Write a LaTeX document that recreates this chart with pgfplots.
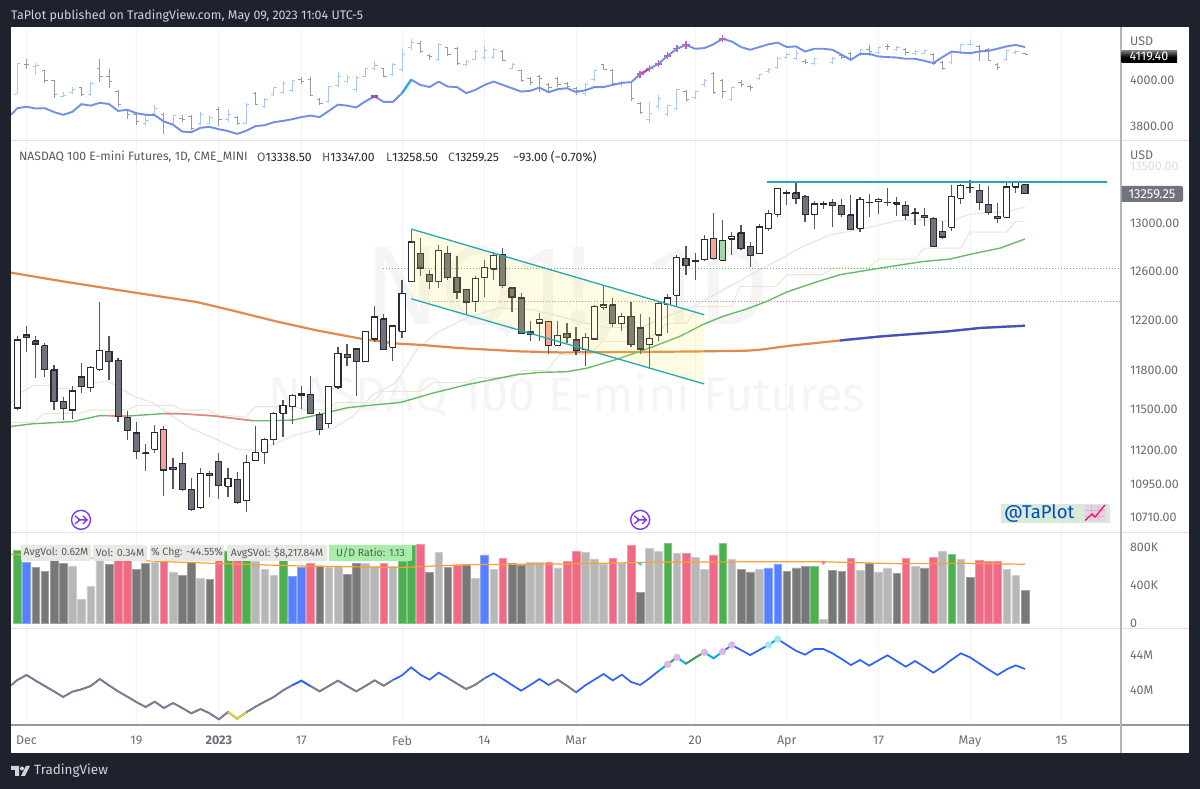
\documentclass[border=0pt]{standalone}
\usepackage{pgfplots}
\usepackage{pgfplotstable}
\usepackage{fontspec}
\pgfplotsset{compat=1.18}
\setmainfont{Fira Sans}

\definecolor{bgdark}{HTML}{1E222D}
\definecolor{gridc}{HTML}{F0F3FA}
\definecolor{sepc}{HTML}{E0E3EB}
\definecolor{scalec}{HTML}{B2B5BE}
\definecolor{tickc}{HTML}{6A6D78}
\definecolor{headc}{HTML}{D1D4DC}
\definecolor{cu}{HTML}{FFFFFF}
\definecolor{cd}{HTML}{6F727C}
\definecolor{cr}{HTML}{F7A29B}
\definecolor{cg}{HTML}{A5D6A7}
\definecolor{cedge}{HTML}{2A2C33}
\definecolor{cwick}{HTML}{55565C}
\definecolor{sb}{HTML}{A9C6FB}
\definecolor{sg}{HTML}{9A9A9E}
\definecolor{rsc}{HTML}{7090E8}
\definecolor{purp}{HTML}{AB47BC}
\definecolor{purpl}{HTML}{DDB8E4}
\definecolor{cyanl}{HTML}{A6E6EE}
\definecolor{teal}{HTML}{22AAB4}
\definecolor{ma200}{HTML}{E08A4E}
\definecolor{ma200b}{HTML}{3F51C8}
\definecolor{ma50}{HTML}{66BB6A}
\definecolor{ma50r}{HTML}{F77C80}
\definecolor{ma21}{HTML}{E4E4EA}
\definecolor{stepc}{HTML}{EBE8D2}
\definecolor{evp}{HTML}{7C3AED}
\definecolor{volg}{HTML}{4CAF50}
\definecolor{volb}{HTML}{5680FF}
\definecolor{volp}{HTML}{EF6A85}
\definecolor{vold}{HTML}{787878}
\definecolor{voll}{HTML}{B7B7B7}
\definecolor{volma}{HTML}{FF9F2E}
\definecolor{linb}{HTML}{2962FF}
\definecolor{ling}{HTML}{808080}
\definecolor{liny}{HTML}{E6D820}
\definecolor{linc}{HTML}{00BCD4}
\definecolor{linv}{HTML}{43A047}
\definecolor{chanfill}{HTML}{FFEB3B}
\definecolor{dotg}{HTML}{66BB6A}
\definecolor{dotr}{HTML}{F77C80}
\definecolor{chipg}{HTML}{A8EEA8}
\definecolor{chipn}{HTML}{E8E8E4}

\pgfdeclareplotmark{evt}{%
  \pgfpathcircle{\pgfpointorigin}{9.5pt}\pgfusepathqstroke
  \pgfpathmoveto{\pgfqpoint{-6pt}{4pt}}\pgfpathlineto{\pgfqpoint{-1pt}{0pt}}\pgfpathlineto{\pgfqpoint{-6pt}{-4pt}}
  \pgfpathmoveto{\pgfqpoint{-3pt}{0pt}}\pgfpathlineto{\pgfqpoint{6pt}{0pt}}
  \pgfpathmoveto{\pgfqpoint{2pt}{4pt}}\pgfpathlineto{\pgfqpoint{6pt}{0pt}}\pgfpathlineto{\pgfqpoint{2pt}{-4pt}}
  \pgfusepathqstroke}

% main pane candles, n counts sessions from Dec 1
\pgfplotstableread{
n o h l c k
-1 11513 12075 11500 12041 cu
0 12081 12149 11946 12062 cd
1 12033 12069 11743 12009 cd
2 11996 12017 11751 11807 cd
3 11805 11844 11500 11566 cd
4 11563 11597 11419 11510 cd
5 11498 11682 11432 11643 cu
6 11751 11859 11630 11681 cd
7 11668 11833 11635 11825 cu
8 11812 12343 11799 11958 cu
9 11951 12069 11730 11869 cd
10 11883 11895 11404 11452 cd
11 11439 11492 11275 11344 cd
12 11325 11409 11132 11188 cd
13 11177 11243 11045 11170 cd
14 11203 11386 11179 11332 cu
15 11354 11381 10865 11052 cr
16 11071 11142 10914 11056 cd
17 11098 11184 10900 10909 cd
18 10909 10993 10761 10766 cd
19 10780 11069 10775 11027 cu
20 11027 11047 10856 11015 cd
21 11115 11176 10844 10940 cd
22 10933 11064 10860 10990 cu
23 10986 11040 10806 10816 cd
24 10835 11164 10747 11110 cu
25 11120 11381 11120 11181 cu
26 11181 11288 11096 11277 cu
27 11275 11480 11238 11472 cu
28 11472 11576 11292 11533 cu
29 11528 11617 11389 11607 cu
30 11622 11684 11508 11612 cd
31 11617 11758 11472 11472 cd
32 11467 11482 11310 11354 cd
33 11396 11678 11364 11676 cu
34 11674 11985 11655 11932 cu
35 11930 12011 11833 11906 cd
36 11970 11977 11605 11869 cd
37 11869 12113 11869 12107 cu
38 12049 12310 12025 12225 cu
39 12209 12251 11962 11966 cd
40 11982 12155 11872 12153 cu
41 12109 12529 12056 12417 cu
42 12515 12949 12507 12844 cu
43 12751 12881 12556 12626 cd
44 12576 12606 12455 12513 cd
45 12513 12819 12463 12776 cu
46 12751 12813 12523 12546 cd
47 12551 12728 12371 12428 cd
48 12447 12453 12245 12346 cd
49 12351 12562 12265 12540 cu
50 12546 12689 12390 12634 cu
51 12618 12756 12529 12729 cu
52 12743 12796 12461 12480 cd
53 12461 12466 12265 12387 cd
54 12379 12420 12091 12091 cd
55 12105 12193 12033 12086 cd
56 12177 12261 12033 12203 cu
57 12189 12189 11927 11995 cr
58 12001 12195 11995 12077 cu
59 12093 12173 12017 12064 cd
60 12041 12141 11925 11958 cd
61 11964 12096 11833 12061 cu
62 12049 12324 12043 12308 cu
63 12305 12488 12281 12322 cu
64 12322 12379 12145 12171 cd
65 12171 12261 12113 12229 cu
66 12229 12349 11982 12003 cd
67 12137 12249 11932 11970 cd
68 12008 12227 11815 12053 cu
69 12081 12357 12030 12338 cu
70 12326 12408 12097 12379 cu
71 12400 12737 12315 12714 cu
72 12709 12813 12570 12645 cd
73 12689 12751 12529 12684 cd
74 12701 12901 12687 12867 cu
75 12873 13091 12689 12709 cr
76 12692 13034 12689 12861 cg
77 12870 12932 12731 12895 cu
78 12921 12991 12779 12790 cd
79 12810 12841 12637 12731 cd
80 12748 12997 12748 12972 cu
81 12960 13120 12935 13088 cu
82 13083 13313 13062 13306 cu
83 13272 13289 13161 13266 cd
84 13266 13359 13172 13218 cd
85 13233 13248 13014 13079 cd
86 13080 13193 12957 13170 cu
87 13170 13193 13126 13165 cd
88 13187 13216 12972 13158 cd
89 13161 13216 13054 13079 cd
90 13075 13245 12946 12952 cd
91 12963 13231 12929 13213 cu
92 13187 13259 13062 13183 cd
93 13192 13225 13083 13213 cu
94 13187 13307 13149 13183 cd
95 13170 13231 13068 13187 cu
96 13161 13193 13028 13075 cd
97 13094 13137 12989 13090 cd
98 13071 13137 12980 13057 cd
99 13048 13054 12810 12810 cd
100 12938 13020 12870 12887 cd
101 12969 13339 12940 13233 cu
102 13222 13342 13172 13330 cu
103 13318 13383 13266 13312 cd
104 13292 13345 13120 13187 cd
105 13163 13324 13079 13094 cd
106 13065 13178 13006 13045 cd
107 13057 13359 13057 13319 cu
108 13319 13365 13264 13359 cu
109 13338.5 13347 13258.5 13259.25 cd
}\candles

% upper pane, S&P bars (closed on n=87)
\pgfplotstableread{
n o h l c k
-1 3939 4080 3939 4080 sb
0 4076 4098 4053 4076 sg
1 4065 4080 4027 4071 sb
2 4047 4050 3990 4002 sg
3 4000 4005 3922 3940 sg
4 3930 3952 3928 3934 sb
5 3948 3972 3940 3960 sb
6 3970 3975 3934 3937 sg
7 3937 3997 3934 3990 sb
8 4057 4098 3997 4018 sg
9 4020 4053 3970 3997 sg
10 3952 3960 3883 3893 sg
11 3867 3875 3831 3850 sg
12 3850 3857 3803 3819 sg
13 3814 3850 3800 3826 sb
14 3857 3893 3850 3879 sb
15 3850 3857 3768 3821 sg
16 3814 3850 3803 3846 sb
17 3833 3850 3817 3831 sg
18 3843 3850 3785 3790 sg
19 3814 3860 3807 3850 sb
20 3814 3847 3810 3840 sb
21 3872 3883 3800 3831 sg
22 3829 3875 3820 3850 sb
23 3839 3843 3807 3811 sg
24 3814 3903 3811 3893 sb
25 3945 3952 3892 3895 sg
26 3886 3922 3879 3918 sb
27 3937 3975 3933 3970 sb
28 3948 4000 3940 3990 sb
29 3957 4005 3949 4000 sb
30 4005 4015 3987 3997 sg
31 4008 4015 3930 3933 sg
32 3915 3922 3892 3898 sg
33 3908 3978 3901 3975 sb
34 3982 4041 3972 4020 sb
35 3997 4027 3990 4015 sb
36 3960 4020 3952 4015 sb
37 4020 4060 4015 4057 sb
38 4057 4092 4047 4072 sb
39 4057 4060 4015 4018 sg
40 4027 4080 4023 4075 sb
41 4051 4147 4039 4120 sb
42 4152 4194 4144 4180 sb
43 4175 4186 4128 4136 sg
44 4116 4125 4094 4112 sg
45 4100 4175 4092 4167 sb
46 4152 4156 4116 4120 sg
47 4148 4156 4073 4081 sg
48 4073 4097 4066 4089 sb
49 4100 4141 4094 4136 sb
50 4109 4163 4097 4141 sb
51 4109 4152 4100 4147 sb
52 4136 4141 4089 4092 sg
53 4058 4081 4054 4076 sb
54 4046 4051 3995 4000 sg
55 4010 4016 3983 3995 sg
56 4021 4028 3950 4013 sg
57 3983 3990 3950 3972 sg
58 4012 4018 3975 3983 sg
59 3990 3995 3963 3975 sg
60 3968 3975 3938 3956 sg
61 3945 3990 3930 3983 sb
62 4005 4051 3998 4046 sb
63 4073 4078 4048 4051 sg
64 4048 4054 3983 3987 sg
65 3983 3998 3972 3990 sb
66 3993 4001 3912 3921 sg
67 3901 3907 3854 3860 sg
68 3828 3904 3813 3857 sb
69 3886 3938 3876 3923 sb
70 3850 3894 3842 3889 sb
71 3879 3963 3872 3960 sb
72 3953 3960 3905 3915 sg
73 3926 3956 3920 3953 sb
74 3983 4009 3975 4002 sb
75 4033 4040 3942 3948 sg
76 4001 4009 3923 3953 sg
77 3918 3975 3912 3972 sb
78 3995 4002 3975 3986 sg
79 3975 3983 3956 3971 sg
80 4009 4031 4002 4028 sb
81 4043 4058 4036 4054 sb
82 4061 4109 4054 4105 sb
83 4109 4128 4103 4123 sb
84 4105 4141 4094 4125 sb
85 4089 4100 4075 4086 sg
86 4081 4105 4073 4101 sb
88 4084 4108 4076 4105 sb
89 4116 4120 4100 4109 sg
90 4125 4133 4092 4105 sg
91 4120 4148 4116 4144 sb
92 4144 4167 4116 4136 sg
93 4131 4155 4125 4152 sb
94 4160 4171 4144 4160 sg
95 4144 4163 4139 4156 sb
96 4144 4152 4117 4131 sg
97 4125 4141 4120 4136 sb
98 4128 4144 4123 4139 sb
99 4120 4128 4070 4078 sg
100 4084 4089 4051 4055 sg
101 4086 4136 4078 4133 sb
102 4133 4171 4125 4167 sb
103 4167 4188 4164 4170 sb
104 4160 4167 4089 4141 sg
105 4144 4152 4089 4094 sg
106 4073 4081 4051 4063 sg
107 4097 4144 4089 4139 sb
108 4131 4144 4125 4136 sb
109 4125 4128 4117 4119.4 sg
}\spbars

\pgfplotstableread{
n v
-1.69 3849
-1 3878
0 3885
1 3877
2 3878
3 3861
4 3849
5 3862
6 3896
7 3890
8 3902
9 3897
10 3866
11 3871
12 3856
13 3849
14 3848
15 3820
16 3806
17 3777
18 3774
19 3793
20 3797
21 3787
22 3779
23 3767
24 3780
25 3800
26 3804
27 3817
28 3823
29 3830
30 3839
31 3846
32 3839
33 3866
34 3894
35 3890
36 3881
37 3909
38 3930
39 3906
40 3906
41 3945
42 4005
43 3982
44 3972
45 3997
46 3974
47 3972
48 3945
49 3959
50 3982
51 3997
52 3982
53 3967
54 3952
55 3956
56 3970
57 3949
58 3963
59 3967
60 3950
61 3958
62 3972
63 3972
64 3982
65 3992
66 3994
67 4030
68 4055
69 4078
70 4115
71 4148
72 4166
73 4148
74 4151
75 4169
76 4195
77 4182
78 4156
79 4143
80 4156
81 4169
82 4177
83 4156
84 4159
85 4135
86 4148
87 4148
88 4143
89 4120
90 4096
91 4124
92 4124
93 4112
94 4109
95 4107
96 4101
97 4101
98 4092
99 4081
100 4109
101 4135
102 4130
103 4127
104 4135
105 4138
106 4148
107 4159
108 4166
109 4156
}\rsline

\pgfplotstableread{
n v
-1.69 11374
0.7 11394
5.1 11411
8.0 11456
8.9 11455
11.0 11452
12.7 11460
14.9 11470
16.8 11470
20.4 11454
24.7 11417
26.6 11417
29.1 11422
31.7 11460
35.0 11515
37.8 11536
40.8 11555
44.4 11628
48.1 11692
53.5 11769
56.1 11787
59.0 11792
61.2 11820
64.5 11890
68.1 11980
71.3 12069
73.8 12163
76.0 12229
78.6 12289
80.8 12351
83.0 12428
85.9 12502
88.8 12570
91.0 12598
93.9 12634
97.9 12681
100.8 12701
103.3 12745
106.3 12793
109 12870
}\mafifty

\pgfplotstableread{
n v
-1.69 12587
4.0 12515
12.1 12420
18.6 12346
22.5 12277
27.3 12189
31.7 12117
36.7 12049
39.4 12022
40.8 12011
42.9 12003
47.3 11977
53.9 11951
58.2 11943
66.2 11946
73.8 11951
78.6 11956
80.1 11964
83.4 11996
88.8 12037
93.2 12069
100.5 12109
104.1 12137
109 12155
}\matwo

\pgfplotstableread{
n v
-1.69 11551
-0.7 11628
0.7 11684
2.6 11684
3.7 11661
5.1 11666
6.9 11699
8.8 11722
10.2 11668
11.6 11607
13.8 11553
16.0 11449
17.9 11362
20.4 11288
23.0 11206
25.2 11196
26.9 11238
29.1 11305
31.3 11344
33.5 11362
35.6 11449
37.8 11615
40.0 11692
40.8 11756
42.6 11964
44.8 12099
48.1 12219
51.7 12299
55.3 12283
58.2 12229
60.8 12179
63.4 12139
67.0 12139
69.9 12229
72.8 12310
77.1 12488
80.1 12612
82.2 12695
84.4 12793
87.7 12906
89.9 12935
92.4 12977
95.0 13026
98.3 13034
100.5 13020
101.6 13043
103.0 13083
105.2 13097
107.0 13105
109 13142
}\matwenty

\pgfplotstableread{
n v
-1.69 11404
0.9 11404
1.8 11470
5.8 11475
6.9 11498
11.0 11498
12.1 11533
16.0 11533
17.0 11498
20.0 11498
20.8 11462
24.0 11444
24.9 11523
29.1 11523
30.4 11502
32.4 11502
33.9 11555
37.8 11555
38.8 11640
43.0 11640
44.4 11707
48.1 11707
49.2 11745
53.1 11745
54.2 11802
56.8 11802
58.2 11925
61.5 11925
62.9 12030
67.0 12030
68.1 12069
69.9 12171
72.1 12177
73.2 12310
77.0 12310
77.9 12474
81.9 12474
83.0 12570
86.9 12570
88.0 12626
91.9 12626
93.0 12701
97.0 12701
98.0 12793
102.0 12793
103.0 12929
107.0 12929
108.0 13020
109 13020
}\stepline

\pgfplotstableread{
n v
-1.69 40.53
-1 41.13
0 41.70
1 41.06
2 40.45
3 39.85
4 39.21
5 39.81
6 40.08
7 40.45
8 41.25
9 40.53
10 39.85
11 39.25
12 38.64
13 38.07
14 38.68
15 37.96
16 38.53
17 37.96
18 37.36
19 37.85
20 37.36
21 36.68
22 37.51
23 36.75
24 37.47
25 38.11
26 38.68
27 39.21
28 39.96
29 40.53
30 41.06
31 40.45
32 39.85
33 40.45
34 41.06
35 40.45
36 39.85
37 40.45
38 41.09
39 40.49
40 41.13
41 41.66
42 42.57
43 41.74
44 41.17
45 41.96
46 41.36
47 40.72
48 40.11
49 40.60
50 41.32
51 41.89
52 41.25
53 40.57
54 39.92
55 40.57
56 41.25
57 40.57
58 41.17
59 40.49
60 39.74
61 40.53
62 41.17
63 41.81
64 41.09
65 41.74
66 40.91
67 40.57
68 41.32
69 42.15
70 42.91
71 43.70
72 42.98
73 43.66
74 44.27
75 43.59
76 44.34
77 45.10
78 44.53
79 43.96
80 44.53
81 45.10
82 45.78
83 45.10
84 44.45
85 44.00
86 44.64
87 44.64
88 44.15
89 43.51
90 42.83
91 43.40
92 42.76
93 43.36
94 43.93
95 43.28
96 42.64
97 43.28
98 42.64
99 41.96
100 42.64
101 43.44
102 44.15
103 43.70
104 43.02
105 42.34
106 41.70
107 42.34
108 42.79
109 42.38
}\obvline

\pgfplotsset{
  pane/.style={
    scale only axis, width=1110pt,
    xmin=-1.692, xmax=119.49,
    axis line style={draw=none}, tick style={draw=none},
    major tick length=0pt,
    xtick={0,12,21,30,41,50,60,73,83,93,103,113},
    xticklabels={},
    xmajorgrids, grid style={color=gridc, line width=0.9pt},
    yticklabel pos=right,
    y tick label style={anchor=west, xshift=5.5pt},
    tick label style={font=\fontsize{12.5}{14}\selectfont, text=tickc},
    unbounded coords=jump,
    clip=true,
  },
  seg/.style 2 args={restrict x to domain=#1:#2},
}

\begin{document}
\begin{tikzpicture}[x=1pt,y=1pt]
\path[use as bounding box] (0,0) rectangle (1200,789);
\fill[bgdark] (0,0) rectangle (1200,789);
\fill[white] (11,36.3) rectangle (1189,761.7);
% watermark
\node[text=black!4, inner sep=0, font=\fontsize{112}{114}\selectfont] at (567,494) {NQ1!, 1D};
\node[text=black!4, inner sep=0, font=\fontsize{48.5}{50}\selectfont] at (567,394) {NASDAQ 100 E-mini Futures};

% upper pane
\begin{axis}[pane, at={(11pt,648pt)}, anchor=south west, height=114pt,
  ymode=log, ymin=3737, ymax=4252,
  ytick={3800,4000}, yticklabels={3800.00,4000.00}]
\pgfplotsinvokeforeach{0,...,109}{
  \pgfplotstablegetelem{#1}{n}\of\spbars \let\valX\pgfplotsretval
  \pgfplotstablegetelem{#1}{o}\of\spbars \let\valO\pgfplotsretval
  \pgfplotstablegetelem{#1}{h}\of\spbars \let\valH\pgfplotsretval
  \pgfplotstablegetelem{#1}{l}\of\spbars \let\valL\pgfplotsretval
  \pgfplotstablegetelem{#1}{c}\of\spbars \let\valC\pgfplotsretval
  \pgfplotstablegetelem{#1}{k}\of\spbars \let\valK\pgfplotsretval
  \pgfmathsetmacro\xa{\valX-0.32}
  \pgfmathsetmacro\xb{\valX+0.32}
  \edef\barcmd{\noexpand\addplot[\valK, line width=0.85pt] coordinates
    {(\valX,\valH) (\valX,\valL) (\valX,nan) (\xa,\valO) (\valX,\valO) (\valX,nan) (\valX,\valC) (\xb,\valC)};}
  \barcmd
}
\addplot[rsc, line width=1.9pt, line join=round] table[x=n,y=v] {\rsline};
\addplot[color=linc!70!rsc, line width=2.2pt, seg={40.9}{42.1}] table[x=n,y=v] {\rsline};
\addplot[purp, line width=2pt, seg={66.9}{68.1}] table[x=n,y=v] {\rsline};
\addplot[only marks, mark=+, mark size=3.6pt, color=purp!85, mark options={draw=purp!85, line width=1.5pt}] coordinates {
 (67,4030) (68,4055) (69,4078) (70,4115) (71,4148) (72,4166) (76,4195)};
\addplot[only marks, mark=-, mark size=3.4pt, color=purp, mark options={draw=purp, line width=2.6pt}] coordinates {(38,3930)};
\end{axis}

% main pane
\begin{axis}[pane, at={(11pt,256pt)}, anchor=south west, height=392pt,
  ymode=log, ymin=10604, ymax=13731,
  ytick={10710,10950,11200,11500,11800,12200,12600,13000,13500},
  yticklabels={10710.00,10950.00,11200.00,11500.00,11800.00,12200.00,12600.00,13000.00,\textcolor{black!13}{13500.00}}]
\addplot[ma21, line width=1.1pt] table[x=n,y=v] {\matwenty};
\addplot[stepc, line width=1.1pt] table[x=n,y=v] {\stepline};
\addplot[color=dotg, line width=0.9pt, dash pattern=on 1pt off 2pt] coordinates {(38.9,12626) (119.5,12626)};
\addplot[color=dotr, line width=0.9pt, dash pattern=on 1pt off 2pt] coordinates {(43.9,12349) (119.5,12349)};
\addplot[ma200, line width=2.2pt] table[x=n,y=v] {\matwo};
\addplot[ma200b, line width=2.2pt, seg={88.7}{109.1}] table[x=n,y=v] {\matwo};
\addplot[ma50, line width=1.4pt] table[x=n,y=v] {\mafifty};
\addplot[ma50r, line width=1.4pt, seg={8.85}{11.05}] table[x=n,y=v] {\mafifty};
\addplot[ma50r, line width=1.4pt, seg={14.85}{24.75}] table[x=n,y=v] {\mafifty};
\pgfplotsinvokeforeach{0,...,110}{
  \pgfplotstablegetelem{#1}{n}\of\candles \let\valX\pgfplotsretval
  \pgfplotstablegetelem{#1}{o}\of\candles \let\valO\pgfplotsretval
  \pgfplotstablegetelem{#1}{h}\of\candles \let\valH\pgfplotsretval
  \pgfplotstablegetelem{#1}{l}\of\candles \let\valL\pgfplotsretval
  \pgfplotstablegetelem{#1}{c}\of\candles \let\valC\pgfplotsretval
  \pgfplotstablegetelem{#1}{k}\of\candles \let\valK\pgfplotsretval
  \pgfmathsetmacro\xa{\valX-0.33}
  \pgfmathsetmacro\xb{\valX+0.33}
  \edef\wickcmd{\noexpand\addplot[cwick, line width=1.2pt] coordinates {(\valX,\valH) (\valX,\valL)};}
  \wickcmd
  \edef\bodycmd{\noexpand\addplot[draw=cedge, line width=1.1pt, fill=\valK] coordinates
    {(\xa,\valO) (\xb,\valO) (\xb,\valC) (\xa,\valC) (\xa,\valO)};}
  \bodycmd
}
\addplot[draw=none, fill=chanfill, fill opacity=0.13] coordinates {(42,12955) (74,12243) (74,11697) (42,12373)};
\addplot[teal, line width=1.3pt] coordinates {(42,12955) (74,12243)};
\addplot[teal, line width=1.3pt] coordinates {(42,12373) (74,11697)};
\addplot[teal, line width=1.8pt] coordinates {(80.8,13365) (118,13365)};
\addplot[only marks, mark=evt, color=evp, mark options={draw=evp, line width=1.4pt}] coordinates {(5.95,10695) (67,10695)};
\end{axis}

% volume pane
\begin{axis}[pane, at={(11pt,160pt)}, anchor=south west, height=96pt,
  ymin=-55.8, ymax=954.2, ytick={0,400,800}, yticklabels={0,400K,800K},
  ybar, bar width=7.7pt, bar shift=0pt]
\addplot[fill=volg, draw=volg!70!white, line width=0.5pt] coordinates {
 (-1,775) (22,765) (24,705) (28,688) (41,652) (42,824) (70,842) (76,842) (86,603) (101,730)};
\addplot[fill=volb, draw=volb!70!white, line width=0.5pt] coordinates {
 (0,642) (29,495) (30,589) (50,723) (81,586) (82,628)};
\addplot[fill=volp, draw=volp!70!white, line width=0.5pt] coordinates {
 (10,705) (11,705) (15,705) (21,705) (23,705) (31,631) (39,638) (43,835) (47,614) (52,688)
 (57,645) (59,652) (60,761) (64,688) (66,824) (72,737) (75,723) (90,688) (96,688) (99,695)
 (104,663) (105,656) (106,656)};
\addplot[fill=vold, draw=vold!70!white, line width=0.5pt] coordinates {
 (1,596) (2,547) (3,688) (4,638) (9,621) (12,572) (13,631) (17,509) (18,645) (20,467)
 (32,607) (35,519) (36,638) (44,540) (46,596) (48,617) (53,635) (54,617) (67,326) (78,572)
 (79,544) (83,551) (84,586) (85,603) (88,561) (89,551) (92,635) (95,533) (98,586) (103,491)
 (109,347)};
\addplot[fill=voll, draw=voll!70!white, line width=0.5pt] coordinates {
 (5,607) (6,256) (7,389) (8,688) (14,642) (16,544) (19,477) (25,652) (26,572) (27,509)
 (33,589) (34,607) (37,631) (38,600) (40,600) (45,747) (49,474) (51,575) (55,645) (56,645)
 (58,586) (61,754) (62,681) (63,624) (65,635) (68,789) (69,758) (71,740) (73,698) (74,572)
 (77,681) (80,572) (87,49) (91,561) (93,544) (94,586) (97,603) (100,765) (102,677) (107,572)
 (108,509)};
\addplot[sharp plot, color=volma, line width=1.2pt] coordinates {
 (-1.69,730) (15.3,652) (22.6,628) (29.9,607) (40.8,591) (48,621) (59,628) (66.2,642) (69.9,649)
 (84.4,652) (86.9,652) (91.7,639) (95.3,631) (102.7,635) (109,625)};
\addplot[only marks, mark=*, mark size=1.8pt, color=cyanl, mark options={fill=linc!70, draw=linc!70}] coordinates {(67,631)};
\addplot[only marks, mark=*, mark size=1.8pt, color=volp, mark options={fill=volp!80, draw=volp!80}] coordinates {(87,642)};
\end{axis}

% on-balance line pane, bottom time axis
\begin{axis}[pane, at={(11pt,64pt)}, anchor=south west, height=96pt,
  ymin=36.04, ymax=46.91, ytick={40,44}, yticklabels={40M,44M},
  xticklabels={Dec,19,\textbf{2023},17,Feb,14,Mar,20,Apr,17,May,15},
  x tick label style={yshift=-7.5pt}]
\addplot[only marks, mark=*, mark size=3.4pt, color=purpl, mark options={fill=purpl, draw=purpl}] coordinates {
 (70,42.91) (71,43.70) (74,44.27) (76,44.34) (77,45.10)};
\addplot[only marks, mark=*, mark size=3.4pt, color=cyanl, mark options={fill=cyanl, draw=cyanl}] coordinates {
 (81,45.10) (82,45.78)};
\addplot[linb, line width=1.7pt] table[x=n,y=v] {\obvline};
\addplot[ling, line width=1.7pt, seg={-2}{29.1}] table[x=n,y=v] {\obvline};
\addplot[linb, line width=1.7pt, seg={28.9}{31.1}] table[x=n,y=v] {\obvline};
\addplot[ling, line width=1.7pt, seg={30.9}{40.1}] table[x=n,y=v] {\obvline};
\addplot[liny, line width=1.7pt, seg={21.9}{24.1}] table[x=n,y=v] {\obvline};
\addplot[ling, line width=1.7pt, seg={45.9}{50.1}] table[x=n,y=v] {\obvline};
\addplot[ling, line width=1.7pt, seg={56.9}{60.1}] table[x=n,y=v] {\obvline};
\addplot[linc, line width=1.7pt, seg={68.9}{70.1}] table[x=n,y=v] {\obvline};
\addplot[linv, line width=1.7pt, seg={69.9}{71.1}] table[x=n,y=v] {\obvline};
\addplot[linc, line width=1.7pt, seg={70.9}{72.1}] table[x=n,y=v] {\obvline};
\addplot[linv, line width=1.7pt, seg={71.9}{74.1}] table[x=n,y=v] {\obvline};
\addplot[linc, line width=1.7pt, seg={73.9}{76.1}] table[x=n,y=v] {\obvline};
\addplot[linc, line width=1.7pt, seg={80.9}{82.1}] table[x=n,y=v] {\obvline};
\end{axis}

% pane separators and price scale rule
\draw[sepc, line width=1pt] (11,648) -- (1189,648);
\draw[sepc, line width=1pt] (11,256) -- (1189,256);
\draw[sepc, line width=1pt] (11,160) -- (1189,160);
\draw[tickc!70, line width=1.1pt] (11,64) -- (1189,64);
\draw[scalec, line width=1.6pt] (1121,36.3) -- (1121,761.7);

% header, footer
\node[anchor=west, inner sep=0, text=headc, font=\fontsize{12.45}{15}\selectfont] at (11,773) {TaPlot published on TradingView.com, May 09, 2023 11:04 UTC-5};
\fill[headc] (11,23) -- (19,23) -- (19,13) -- (15,13) -- (15,19) -- (11,19) -- cycle;
\fill[headc] (22,20.5) circle (2);
\fill[headc] (26,23) -- (30,23) -- (25,13) -- (21,13) -- cycle;
\node[anchor=west, inner sep=0, text=headc, font=\fontsize{13.5}{15}\selectfont] at (34,18) {TradingView};

% symbol legend
\begin{scope}[every node/.style={anchor=west, inner sep=0, text=black!65, font=\fontsize{12.15}{14}\selectfont}]
\node at (19,632) {NASDAQ 100 E-mini Futures, 1D, CME\_MINI};
\node at (257,632) {O\textcolor{black!85}{13338.50}};
\node at (322,632) {H\textcolor{black!85}{13347.00}};
\node at (386,632) {L\textcolor{black!85}{13258.50}};
\node at (448,632) {C\textcolor{black!85}{13259.25}};
\node at (513,632) {\textcolor{black!85}{−93.00 (−0.70\%)}};
\end{scope}

% price scale extras
\begin{scope}[every node/.style={anchor=west, inner sep=0, text=tickc, font=\fontsize{12.5}{14}\selectfont}]
\node at (1130,748) {USD};
\node at (1130,634) {USD};
\end{scope}
\shade[top color=black!55, bottom color=black, middle color=black] (1121.5,738) rectangle (1177,726);
\node[inner sep=0, text=white, font=\fontsize{12.5}{14}\selectfont] at (1149,733) {4119.40};
\fill[tickc!95] (1121.5,603) -- (1181,603) arc (90:0:2) -- (1183,589) arc (0:-90:2) -- (1121.5,587) -- cycle;
\node[inner sep=0, text=white, font=\fontsize{13}{15}\selectfont] at (1152,595) {13259.25};

% volume info chips
\begin{scope}[every node/.style={inner sep=0, text=black!65, font=\fontsize{10.5}{13}\selectfont}]
\fill[chipn, rounded corners=1pt] (21,228) rectangle (91,244);
\node at (56,236) {AvgVol: 0.62M};
\fill[chipn, rounded corners=1pt] (93,228) rectangle (147,244);
\node at (120,236) {Vol: 0.34M};
\fill[chipn, rounded corners=1pt] (150,228) rectangle (224,244);
\node at (187,236) {\% Chg: -44.55\%};
\fill[chipn, rounded corners=1pt] (227,228) rectangle (327,244);
\node at (277,236) {AvgSVol: \$8,217.84M};
\fill[chipg, rounded corners=1pt] (329,228) rectangle (412,244);
\node at (370.5,236) {U/D Ratio: 1.13};
\end{scope}

% @TaPlot tag
\fill[green!45!black!15] (1001,266.3) rectangle (1110,285);
\node[anchor=west, inner sep=0, text=blue!60!cyan!75!black, font=\fontsize{18.5}{20}\selectfont] at (1004,275.5) {@TaPlot};
\fill[violet!18] (1085,267.5) rectangle (1105,284);
\draw[violet!30, line width=0.6pt] (1091.5,267.5) -- (1091.5,284) (1098,267.5) -- (1098,284) (1085,273) -- (1105,273) (1085,278.5) -- (1105,278.5);
\draw[red!80!magenta, line width=1.1pt] (1085,268.5) -- (1092,275) -- (1095,272) -- (1105,284);
\end{tikzpicture}
\end{document}
